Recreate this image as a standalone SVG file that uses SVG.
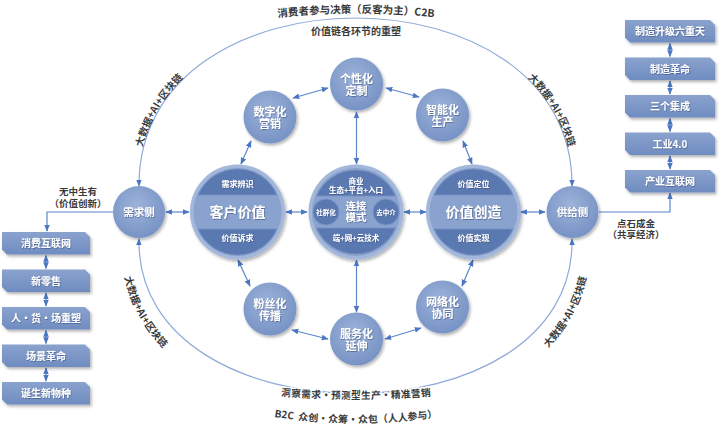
<svg xmlns="http://www.w3.org/2000/svg" width="720" height="430" viewBox="0 0 720 430">
<defs>
<style>
.t{font-family:"Noto Sans CJK SC","Noto Sans",sans-serif;font-weight:700;}
.w{fill:#fff;text-anchor:middle;filter:url(#ts);}
.d{fill:#3a3a3a;}
.arc{fill:none;stroke:#8eaad9;stroke-width:1.2;marker-start:url(#ah);marker-end:url(#ah);}
.cn{fill:none;stroke:#5b86c9;stroke-width:1.2;marker-start:url(#ah);marker-end:url(#ah);}
.cn1{fill:none;stroke:#5b86c9;stroke-width:1.2;marker-end:url(#ah);}
.sm circle{fill:url(#gS);filter:url(#sh);}
.box path{fill:url(#gB);filter:url(#sh);}
.ring{fill:#a3b7db;filter:url(#sh);}
.body{fill:#89a2ce;}
.band{fill:#5b79b1;stroke:#7993c4;stroke-width:0.8;}
.halo{stroke:#fff;stroke-width:3;paint-order:stroke;stroke-linejoin:round;}
</style>
<radialGradient id="gS" cx="45%" cy="38%" r="65%">
<stop offset="0" stop-color="#9db3d9"/><stop offset="1" stop-color="#7591c4"/>
</radialGradient>
<linearGradient id="gB" x1="0" y1="0" x2="0" y2="1">
<stop offset="0" stop-color="#8aa2cd"/><stop offset="1" stop-color="#6f8cc1"/>
</linearGradient>
<filter id="sh" x="-20%" y="-20%" width="150%" height="150%">
<feDropShadow dx="1.5" dy="2" stdDeviation="1.8" flood-color="#000" flood-opacity="0.3"/>
</filter>
<filter id="ts" x="-10%" y="-20%" width="130%" height="150%">
<feDropShadow dx="0.6" dy="0.8" stdDeviation="0.4" flood-color="#2a4370" flood-opacity="0.6"/>
</filter>
<marker id="ah" viewBox="0 0 10 10" refX="9" refY="5" markerWidth="7" markerHeight="7" markerUnits="userSpaceOnUse" orient="auto-start-reverse">
<path d="M0,1 L10,5 L0,9 Z" fill="#4a76c2"/>
</marker>
<path id="tpTop" d="M250,20.8 Q356,5.2 462,20.8"/>
<path id="tpTopArc" d="M137.5,187 C138,-40 573,-40 573.5,187"/>
<path id="tpBotOuter" d="M121,240 C116,476 595,476 590,240"/>
<path id="tpBot1" d="M250,393.2 Q356,404.8 462,393.2"/>
<path id="tpBot2" d="M250,412.7 Q356,433.3 462,412.7"/>
</defs>
<rect width="720" height="430" fill="#fff"/>

<g id="arcs">
<path class="arc" d="M139,186 C138,-38 573,-38 572,186"/>
<path class="arc" d="M139,239 C135,445 576,445 572,239"/>
</g>

<g id="arc-labels" class="t d" font-size="10">
<text font-size="10.5"><textPath href="#tpTop" startOffset="50%" text-anchor="middle">消费者参与决策（反客为主）C2B</textPath></text>
<text x="356" y="35" text-anchor="middle">价值链各环节的重塑</text>
<text><textPath href="#tpTopArc" startOffset="13.1%" text-anchor="middle">大数据+AI+区块链</textPath></text>
<text><textPath href="#tpTopArc" startOffset="86.9%" text-anchor="middle">大数据+AI+区块链</textPath></text>
<text><textPath href="#tpBotOuter" startOffset="11.9%" text-anchor="middle">大数据+AI+区块链</textPath></text>
<text><textPath href="#tpBotOuter" startOffset="88.1%" text-anchor="middle">大数据+AI+区块链</textPath></text>
<text class="halo"><textPath href="#tpBot1" startOffset="50%" text-anchor="middle">洞察需求・预测型生产・精准营销</textPath></text>
<text><textPath href="#tpBot2" startOffset="50%" text-anchor="middle" xml:space="preserve">B2C  众创・众筹・众包（人人参与）</textPath></text>
<text text-anchor="middle" font-size="9.5"><tspan x="78" y="195">无中生有</tspan><tspan x="78" y="207">（价值创新）</tspan></text>
<text text-anchor="middle" font-size="9.5"><tspan x="636" y="227">点石成金</tspan><tspan x="636" y="238">（共享经济）</tspan></text>
</g>

<g id="connectors">
<line class="cn" x1="166" y1="212" x2="189" y2="212"/>
<line class="cn" x1="286" y1="212" x2="307" y2="212"/>
<line class="cn" x1="404" y1="212" x2="426" y2="212"/>
<line class="cn" x1="521" y1="212" x2="545" y2="212"/>
<line class="cn" x1="328" y1="88" x2="293" y2="98"/>
<line class="cn" x1="386" y1="88" x2="419" y2="97"/>
<line class="cn" x1="356.5" y1="112" x2="356.5" y2="164"/>
<line class="cn" x1="251" y1="141" x2="241" y2="164"/>
<line class="cn" x1="463" y1="141" x2="472" y2="164"/>
<line class="cn" x1="238" y1="260" x2="250" y2="286"/>
<line class="cn" x1="356.5" y1="260" x2="356.5" y2="312"/>
<line class="cn" x1="473" y1="260" x2="462" y2="286"/>
<line class="cn" x1="292" y1="330" x2="328" y2="339"/>
<line class="cn" x1="385" y1="339" x2="421" y2="328"/>
<path class="cn1" d="M113,212 H47 V231"/>
<path class="cn1" d="M599,212 H670 V193"/>
<line class="cn" x1="46" y1="255.5" x2="46" y2="268.5"/>
<line class="cn" x1="46" y1="293" x2="46" y2="306"/>
<line class="cn" x1="46" y1="330.5" x2="46" y2="343.5"/>
<line class="cn" x1="46" y1="368" x2="46" y2="381"/>
<line class="cn" x1="670" y1="43.5" x2="670" y2="56.5"/>
<line class="cn" x1="670" y1="81" x2="670" y2="94"/>
<line class="cn" x1="670" y1="118.5" x2="670" y2="131.5"/>
<line class="cn" x1="670" y1="156" x2="670" y2="169"/>
</g>

<g id="n-xuqiu" class="sm t"><circle cx="139" cy="212" r="26"/><text class="w" x="139" y="216" font-size="10.5">需求侧</text></g>
<g id="n-gongji" class="sm t"><circle cx="572.5" cy="212" r="26"/><text class="w" x="572.5" y="216" font-size="10.5">供给侧</text></g>

<g id="n-gexinghua" class="sm t" font-size="11"><circle cx="356.5" cy="84" r="26.5"/><text class="w"><tspan x="356.5" y="82.5">个性化</tspan><tspan x="356.5" y="95">定制</tspan></text></g>
<g id="n-shuzihua" class="sm t" font-size="11"><circle cx="270" cy="117" r="26.5"/><text class="w"><tspan x="270" y="115.5">数字化</tspan><tspan x="270" y="128">营销</tspan></text></g>
<g id="n-zhineng" class="sm t" font-size="11"><circle cx="442.5" cy="115" r="26.5"/><text class="w"><tspan x="442.5" y="113.5">智能化</tspan><tspan x="442.5" y="126">生产</tspan></text></g>
<g id="n-fensi" class="sm t" font-size="11"><circle cx="270" cy="309" r="26.5"/><text class="w"><tspan x="270" y="307.5">粉丝化</tspan><tspan x="270" y="320">传播</tspan></text></g>
<g id="n-fuwu" class="sm t" font-size="11"><circle cx="356.5" cy="339" r="26.5"/><text class="w"><tspan x="356.5" y="337.5">服务化</tspan><tspan x="356.5" y="350">延伸</tspan></text></g>
<g id="n-wangluo" class="sm t" font-size="11"><circle cx="442.5" cy="307" r="26.5"/><text class="w"><tspan x="442.5" y="305.5">网络化</tspan><tspan x="442.5" y="318">协同</tspan></text></g>

<g id="n-kehu" class="t">
<circle class="ring" cx="237.5" cy="212" r="47.5"/>
<circle class="body" cx="237.5" cy="212" r="44"/>
<path class="band" d="M198,195 A43,43 0 0 1 277,195 Z"/>
<path class="band" d="M198,229 A43,43 0 0 0 277,229 Z"/>
<text class="w" x="237.5" y="186.5" font-size="8">需求辨识</text>
<text class="w" x="237.5" y="217" font-size="14">客户价值</text>
<text class="w" x="237.5" y="241" font-size="8">价值诉求</text>
</g>

<g id="n-lianjie" class="t">
<circle class="ring" cx="356" cy="212" r="47.5"/>
<circle class="body" cx="356" cy="212" r="44"/>
<path class="band" d="M316.5,196 A43,43 0 0 1 395.5,196 Z"/>
<path class="band" d="M316.5,228 A43,43 0 0 0 395.5,228 Z"/>
<circle class="band" cx="326" cy="212" r="13"/>
<circle class="band" cx="386" cy="212" r="13"/>
<text class="w" font-size="7.5"><tspan x="356" y="184">商业</tspan><tspan x="356" y="192.5">生态+平台+入口</tspan></text>
<text class="w" x="326" y="214.5" font-size="6.5">社群化</text>
<text class="w" x="386" y="214.5" font-size="6.5">去中介</text>
<text class="w" font-size="10.5"><tspan x="356" y="209.5">连接</tspan><tspan x="356" y="221">模式</tspan></text>
<text class="w" x="356" y="241" font-size="7.5">端+网+云技术</text>
</g>

<g id="n-jiazhi" class="t">
<circle class="ring" cx="473.5" cy="212" r="47.5"/>
<circle class="body" cx="473.5" cy="212" r="44"/>
<path class="band" d="M434,195 A43,43 0 0 1 513,195 Z"/>
<path class="band" d="M434,229 A43,43 0 0 0 513,229 Z"/>
<text class="w" x="473.5" y="186.5" font-size="8">价值定位</text>
<text class="w" x="473.5" y="217" font-size="14">价值创造</text>
<text class="w" x="473.5" y="241" font-size="8">价值实现</text>
</g>

<g id="b-l1" class="box t" font-size="10"><path d="M2,232 H85 L90,237 V254.5 H7 L2,249.5 Z"/><text class="w" x="46" y="247">消费互联网</text></g>
<g id="b-l2" class="box t" font-size="10"><path d="M2,269.5 H85 L90,274.5 V292 H7 L2,287 Z"/><text class="w" x="46" y="284.5">新零售</text></g>
<g id="b-l3" class="box t" font-size="10"><path d="M2,307 H85 L90,312 V329.5 H7 L2,324.5 Z"/><text class="w" x="46" y="322">人・货・场重塑</text></g>
<g id="b-l4" class="box t" font-size="10"><path d="M2,344.5 H85 L90,349.5 V367 H7 L2,362 Z"/><text class="w" x="46" y="359.5">场景革命</text></g>
<g id="b-l5" class="box t" font-size="10"><path d="M2,382 H85 L90,387 V404.5 H7 L2,399.5 Z"/><text class="w" x="46" y="397">诞生新物种</text></g>

<g id="b-r1" class="box t" font-size="10"><path d="M625,20 H710 L715,25 V42.5 H630 L625,37.5 Z"/><text class="w" x="670" y="35">制造升级六重天</text></g>
<g id="b-r2" class="box t" font-size="10"><path d="M625,57.5 H710 L715,62.5 V80 H630 L625,75 Z"/><text class="w" x="670" y="72.5">制造革命</text></g>
<g id="b-r3" class="box t" font-size="10"><path d="M625,95 H710 L715,100 V117.5 H630 L625,112.5 Z"/><text class="w" x="670" y="110">三个集成</text></g>
<g id="b-r4" class="box t" font-size="10"><path d="M625,132.5 H710 L715,137.5 V155 H630 L625,150 Z"/><text class="w" x="670" y="147.5">工业4.0</text></g>
<g id="b-r5" class="box t" font-size="10"><path d="M625,170 H710 L715,175 V192.5 H630 L625,187.5 Z"/><text class="w" x="670" y="185">产业互联网</text></g>
</svg>
